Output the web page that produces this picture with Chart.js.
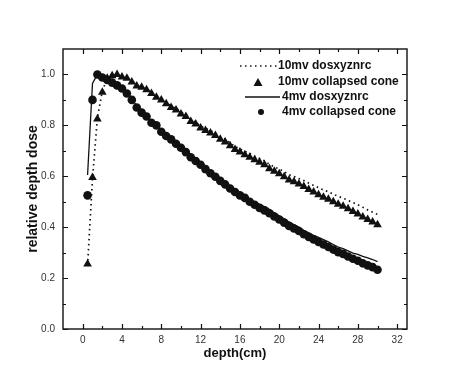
<!DOCTYPE html>
<html>
<head>
<meta charset="utf-8">
<script src="https://cdn.jsdelivr.net/npm/chart.js@4.4.1/dist/chart.umd.min.js"></script>
<style>
  html, body { margin: 0; padding: 0; background: #fff; }
  #wrap { width: 474px; height: 386px; }
</style>
</head>
<body>
<div id="wrap"><canvas id="c"></canvas></div>
<script>
// profundidade (cm)
var depth = [
  0.5, 1.0, 1.5, 2.0, 2.5, 3.0, 3.5, 4.0, 4.5, 5.0,
  5.5, 6.0, 6.5, 7.0, 7.5, 8.0, 8.5, 9.0, 9.5, 10.0,
  10.5, 11.0, 11.5, 12.0, 12.5, 13.0, 13.5, 14.0, 14.5, 15.0,
  15.5, 16.0, 16.5, 17.0, 17.5, 18.0, 18.5, 19.0, 19.5, 20.0,
  20.5, 21.0, 21.5, 22.0, 22.5, 23.0, 23.5, 24.0, 24.5, 25.0,
  25.5, 26.0, 26.5, 27.0, 27.5, 28.0, 28.5, 29.0, 29.5, 30.0
];

var mv10Dosxyz = [
  0.250, 0.590, 0.830, 0.935, 0.985, 0.995, 1.000, 0.992, 0.986, 0.972,
  0.958, 0.952, 0.942, 0.928, 0.914, 0.904, 0.890, 0.876, 0.866, 0.852,
  0.842, 0.822, 0.812, 0.797, 0.788, 0.779, 0.770, 0.756, 0.746, 0.731,
  0.717, 0.707, 0.698, 0.689, 0.679, 0.670, 0.661, 0.647, 0.637, 0.628,
  0.618, 0.606, 0.599, 0.591, 0.583, 0.573, 0.564, 0.555, 0.546, 0.539,
  0.530, 0.521, 0.514, 0.505, 0.497, 0.488, 0.478, 0.468, 0.459, 0.450
];

var mv10Cone = [
  0.255, 0.595, 0.825, 0.930, 0.985, 0.995, 1.000, 0.990, 0.985, 0.970,
  0.955, 0.950, 0.940, 0.925, 0.910, 0.900, 0.885, 0.870, 0.860, 0.845,
  0.835, 0.815, 0.805, 0.790, 0.780, 0.770, 0.760, 0.745, 0.735, 0.720,
  0.705, 0.695, 0.685, 0.675, 0.665, 0.655, 0.645, 0.630, 0.620, 0.610,
  0.598, 0.585, 0.578, 0.570, 0.560, 0.548, 0.538, 0.527, 0.518, 0.510,
  0.500, 0.490, 0.482, 0.472, 0.462, 0.452, 0.440, 0.430, 0.420, 0.410
];

var mv4Dosxyz = [
  0.605, 0.965, 1.000, 0.990, 0.982, 0.972, 0.961, 0.949, 0.930, 0.905,
  0.876, 0.856, 0.840, 0.815, 0.805, 0.781, 0.764, 0.751, 0.734, 0.718,
  0.704, 0.685, 0.670, 0.656, 0.638, 0.622, 0.608, 0.593, 0.578, 0.562,
  0.549, 0.536, 0.526, 0.511, 0.499, 0.490, 0.481, 0.470, 0.457, 0.445,
  0.433, 0.420, 0.410, 0.400, 0.388, 0.378, 0.368, 0.360, 0.351, 0.342,
  0.332, 0.322, 0.316, 0.307, 0.298, 0.293, 0.285, 0.279, 0.273, 0.265
];

var mv4Cone = [
  0.525, 0.900, 1.000, 0.988, 0.978, 0.968, 0.957, 0.945, 0.925, 0.900,
  0.870, 0.850, 0.835, 0.810, 0.800, 0.775, 0.758, 0.745, 0.728, 0.712,
  0.695, 0.675, 0.660, 0.645, 0.628, 0.612, 0.598, 0.582, 0.568, 0.552,
  0.538, 0.525, 0.515, 0.500, 0.488, 0.476, 0.466, 0.455, 0.442, 0.430,
  0.418, 0.405, 0.395, 0.385, 0.372, 0.362, 0.352, 0.342, 0.332, 0.322,
  0.312, 0.302, 0.295, 0.285, 0.276, 0.268, 0.258, 0.250, 0.243, 0.233
];

var xTicks = [0, 4, 8, 12, 16, 20, 24, 28, 32];
var yTicks = [0.0, 0.2, 0.4, 0.6, 0.8, 1.0];

var legendNames = ["10mv dosxyznrc", "10mv collapsed cone", "4mv dosxyznrc", "4mv collapsed cone"];

function pts(vals) {
    return depth.map(function (d, i) { return { x: d, y: vals[i] }; });
}

// moldura + ticks para dentro + legenda desenhada à mão
var framePlugin = {
    id: "frame",
    afterDraw: function (chart) {
        var ctx = chart.ctx, a = chart.chartArea;
        var sx = chart.scales.x, sy = chart.scales.y;
        ctx.save();
        ctx.strokeStyle = "#111";
        ctx.lineWidth = 1.4;
        ctx.strokeRect(a.left, a.top, a.right - a.left, a.bottom - a.top);

        ctx.lineWidth = 1.2;
        ctx.beginPath();
        var i, px, len;
        for (i = 0; i < xTicks.length * 2 - 1; i++) {
            var xv = xTicks[0] + i * (xTicks[1] - xTicks[0]) / 2;
            px = Math.round(sx.getPixelForValue(xv)) + 0.5;
            len = (i % 2 === 0) ? 5 : 3;
            ctx.moveTo(px, a.bottom); ctx.lineTo(px, a.bottom - len);
            ctx.moveTo(px, a.top);    ctx.lineTo(px, a.top + len);
        }
        for (i = 0; i < yTicks.length * 2 - 1; i++) {
            var yv = yTicks[0] + i * (yTicks[1] - yTicks[0]) / 2;
            px = Math.round(sy.getPixelForValue(yv)) + 0.5;
            len = (i % 2 === 0) ? 5 : 3;
            ctx.moveTo(a.left, px);  ctx.lineTo(a.left + len, px);
            ctx.moveTo(a.right, px); ctx.lineTo(a.right - len, px);
        }
        ctx.stroke();

        // legenda
        var lx = a.left, ty = a.top;
        ctx.fillStyle = "#111";
        ctx.font = "bold 12px 'Liberation Sans', Arial, sans-serif";
        ctx.textBaseline = "middle";
        ctx.textAlign = "left";

        // 1: pontilhado
        ctx.lineWidth = 1.6;
        ctx.setLineDash([1.5, 3.5]);
        ctx.beginPath();
        ctx.moveTo(lx + 177, ty + 17); ctx.lineTo(lx + 214, ty + 17);
        ctx.stroke();
        ctx.setLineDash([]);
        ctx.fillText(legendNames[0], lx + 215, ty + 17);

        // 2: triângulo
        ctx.beginPath();
        ctx.moveTo(lx + 195, ty + 29);
        ctx.lineTo(lx + 199.5, ty + 37);
        ctx.lineTo(lx + 190.5, ty + 37);
        ctx.closePath();
        ctx.fill();
        ctx.fillText(legendNames[1], lx + 215, ty + 33);

        // 3: linha cheia
        ctx.lineWidth = 1.3;
        ctx.beginPath();
        ctx.moveTo(lx + 182, ty + 48); ctx.lineTo(lx + 217, ty + 48);
        ctx.stroke();
        ctx.fillText(legendNames[2], lx + 219, ty + 48);

        // 4: círculo
        ctx.beginPath();
        ctx.arc(lx + 198, ty + 63, 3, 0, Math.PI * 2);
        ctx.fill();
        ctx.fillText(legendNames[3], lx + 219, ty + 63);

        ctx.restore();
    }
};

new Chart(document.getElementById("c").getContext("2d"), {
    type: "scatter",
    data: {
        datasets: [
            {
                label: legendNames[0],
                data: pts(mv10Dosxyz),
                showLine: true,
                borderColor: "#111",
                borderWidth: 1.7,
                borderDash: [1.5, 3.5],
                pointRadius: 0,
                tension: 0
            },
            {
                label: legendNames[1],
                data: pts(mv10Cone),
                showLine: false,
                pointStyle: "triangle",
                pointRadius: 5,
                backgroundColor: "#111",
                borderColor: "#111",
                borderWidth: 0
            },
            {
                label: legendNames[2],
                data: pts(mv4Dosxyz),
                showLine: true,
                borderColor: "#111",
                borderWidth: 1.3,
                pointRadius: 0,
                tension: 0
            },
            {
                label: legendNames[3],
                data: pts(mv4Cone),
                showLine: false,
                pointStyle: "circle",
                pointRadius: 4.3,
                backgroundColor: "#111",
                borderColor: "#111",
                borderWidth: 0
            }
        ]
    },
    options: {
        responsive: true,
        maintainAspectRatio: false,
        animation: false,
        layout: { padding: { left: 0, top: 49, right: 67, bottom: 0 } },
        plugins: {
            legend: { display: false },
            tooltip: { enabled: false }
        },
        scales: {
            x: {
                type: "linear",
                min: -2,
                max: 33,
                afterFit: function (s) { s.height = 57; },
                afterBuildTicks: function (s) {
                    s.ticks = xTicks.map(function (v) { return { value: v }; });
                },
                grid: { display: false, drawTicks: false },
                border: { display: false },
                ticks: {
                    padding: 5,
                    color: "#333",
                    font: { family: "'Liberation Sans', Arial, sans-serif", size: 10 },
                    callback: function (v) { return String(v); }
                },
                title: {
                    display: true,
                    text: "depth(cm)",
                    color: "#111",
                    font: { family: "'Liberation Sans', Arial, sans-serif", size: 13, weight: "bold" },
                    padding: { top: 0, bottom: 25 }
                }
            },
            y: {
                type: "linear",
                min: 0,
                max: 1.1,
                afterFit: function (s) { s.width = 63; },
                afterBuildTicks: function (s) {
                    s.ticks = yTicks.map(function (v) { return { value: v }; });
                },
                grid: { display: false, drawTicks: false },
                border: { display: false },
                ticks: {
                    padding: 8,
                    color: "#333",
                    font: { family: "'Liberation Sans', Arial, sans-serif", size: 10 },
                    callback: function (v) { return Number(v).toFixed(1); }
                },
                title: {
                    display: true,
                    text: "relative depth dose",
                    color: "#111",
                    font: { family: "'Liberation Sans', Arial, sans-serif", size: 14, weight: "bold" },
                    padding: { top: 25, bottom: 0 }
                }
            }
        }
    },
    plugins: [framePlugin]
});
</script>
</body>
</html>
